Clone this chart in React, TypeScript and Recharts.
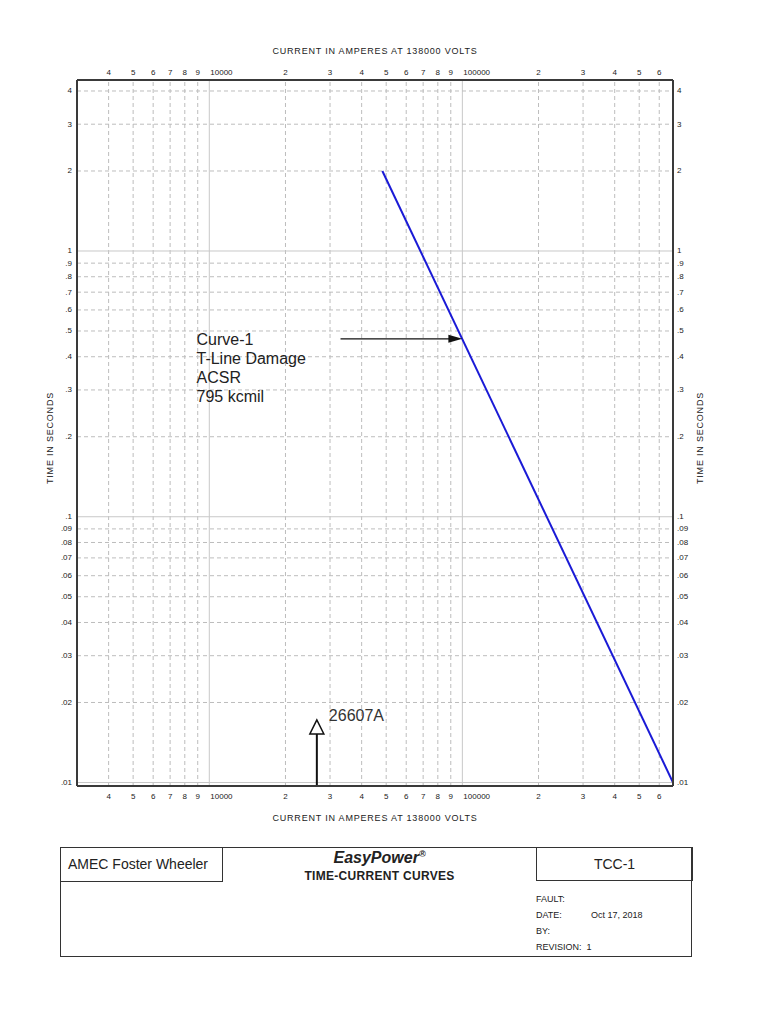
import React from 'react';
import { LineChart, Line, XAxis, YAxis, ReferenceLine } from 'recharts';

// tick positions and the labels printed at them
const currentTicks = [4000, 5000, 6000, 7000, 8000, 9000, 10000, 20000, 30000, 40000, 50000, 60000, 70000, 80000, 90000, 100000, 200000, 300000, 400000, 500000, 600000];
const currentTickLabels = ['4', '5', '6', '7', '8', '9', '10000', '2', '3', '4', '5', '6', '7', '8', '9', '100000', '2', '3', '4', '5', '6'];
const timeTicks = [0.01, 0.02, 0.03, 0.04, 0.05, 0.06, 0.07, 0.08, 0.09, 0.1, 0.2, 0.3, 0.4, 0.5, 0.6, 0.7, 0.8, 0.9, 1, 2, 3, 4];
const timeTickLabels = ['.01', '.02', '.03', '.04', '.05', '.06', '.07', '.08', '.09', '.1', '.2', '.3', '.4', '.5', '.6', '.7', '.8', '.9', '1', '2', '3', '4'];
const decadeCurrents = [10000, 100000];
const decadeTimes = [0.01, 0.1, 1];

// Curve-1: conductor damage, ACSR 795 kcmil
const damageCurrent = [48300, 680000];
const damageTime = [2, 0.01];

const faultCurrent = 26607;
const curveTagCurrent = 33000;
const curveTagTime = 0.467;

const data = damageCurrent.map((c, i) => ({ current: c, time: damageTime[i] }));

const FONT = 'Arial, "Liberation Sans", sans-serif';
const gridDash = '#bdbdbd';
const gridSolid = '#c8c8c8';

const XTick = (props: any) => {
  const { x, y, payload } = props;
  const label = currentTickLabels[currentTicks.indexOf(payload.value)];
  // decade labels start at their gridline, the others are centred on it
  const decade = decadeCurrents.includes(payload.value);
  return (
    <text x={decade ? x + 1 : x} y={y} textAnchor={decade ? 'start' : 'middle'} dominantBaseline="central"
      fontSize={8} fill="#222" fontFamily={FONT}>
      {label}
    </text>
  );
};

const YTick = (props: any) => {
  const { x, y, payload, anchor } = props;
  const label = timeTickLabels[timeTicks.indexOf(payload.value)];
  return (
    <text x={x} y={y} textAnchor={anchor} dominantBaseline="central" fontSize={8} fill="#222" fontFamily={FONT}>
      {label}
    </text>
  );
};

const CurveTag = (p: any) => {
  const { x1, y1, x2 } = p;
  const lines = ['Curve-1', 'T-Line Damage', 'ACSR', '795 kcmil'];
  return (
    <g>
      <line x1={x1} y1={y1} x2={x2 - 12} y2={y1} stroke="#111" strokeWidth={1.2} />
      <polygon points={`${x2},${y1} ${x2 - 14},${y1 - 4} ${x2 - 14},${y1 + 4}`} fill="#111" />
      {lines.map((t, i) => (
        <text key={t} x={x1 - 144} y={y1 + 1 + i * 19} dominantBaseline="central" fontSize={16} fill="#222" fontFamily={FONT}>
          {t}
        </text>
      ))}
    </g>
  );
};

const FaultArrow = (p: any) => {
  const { x1, y1, y2 } = p;
  return (
    <g>
      <line x1={x1} y1={y1} x2={x1} y2={y2 + 14} stroke="#111" strokeWidth={2} />
      <polygon points={`${x1},${y2} ${x1 - 7},${y2 + 14} ${x1 + 7},${y2 + 14}`} fill="#fff" stroke="#111" strokeWidth={1.5} />
      <text x={x1 + 12} y={y2 - 4} dominantBaseline="central" fontSize={16} fill="#333" fontFamily={FONT}>
        {faultCurrent}A
      </text>
    </g>
  );
};

const small: React.CSSProperties = { position: 'absolute', fontFamily: FONT, fontSize: 9, color: '#222', letterSpacing: 0.8, whiteSpace: 'nowrap' };

export default function App() {
  const border = { stroke: '#3a3a3a', strokeWidth: 2 };
  return (
    <div style={{ position: 'absolute', left: 0, top: 0, width: 768, height: 1024, background: '#fff' }}>
      <LineChart width={768} height={1024} data={data} margin={{ top: 0, right: 0, bottom: 0, left: 0 }}>
        <XAxis xAxisId="bottom" dataKey="current" type="number" scale="log" domain={[3000, 680000]} allowDataOverflow
          ticks={currentTicks} interval={0} orientation="bottom" height={238} tickSize={0} tickMargin={10.5}
          tick={<XTick />} axisLine={border} tickLine={false} />
        <XAxis xAxisId="top" dataKey="current" type="number" scale="log" domain={[3000, 680000]} allowDataOverflow
          ticks={currentTicks} interval={0} orientation="top" height={80} tickSize={0} tickMargin={7.5}
          tick={<XTick />} axisLine={border} tickLine={false} />
        <YAxis yAxisId="left" dataKey="time" type="number" scale="log" domain={[0.0097, 4.4]} allowDataOverflow
          ticks={timeTicks} interval={0} width={77} tickSize={0} tickMargin={5}
          tick={<YTick anchor="end" />} axisLine={border} tickLine={false} />
        <YAxis yAxisId="right" dataKey="time" type="number" scale="log" domain={[0.0097, 4.4]} allowDataOverflow
          ticks={timeTicks} interval={0} orientation="right" width={95} tickSize={0} tickMargin={4}
          tick={<YTick anchor="start" />} axisLine={border} tickLine={false} />

        {currentTicks.map((c) => (
          <ReferenceLine key={`x${c}`} xAxisId="bottom" yAxisId="left" x={c}
            stroke={decadeCurrents.includes(c) ? gridSolid : gridDash} strokeWidth={1}
            strokeDasharray={decadeCurrents.includes(c) ? undefined : '4 3'} />
        ))}
        {timeTicks.map((t) => (
          <ReferenceLine key={`y${t}`} xAxisId="bottom" yAxisId="left" y={t}
            stroke={decadeTimes.includes(t) ? gridSolid : gridDash} strokeWidth={1}
            strokeDasharray={decadeTimes.includes(t) ? undefined : '4 3'} />
        ))}

        <Line xAxisId="bottom" yAxisId="left" dataKey="time" type="linear" stroke="#1a1ad6" strokeWidth={2}
          dot={false} isAnimationActive={false} />

        <ReferenceLine xAxisId="bottom" yAxisId="left" ifOverflow="visible"
          segment={[{ x: curveTagCurrent, y: curveTagTime }, { x: 100000, y: curveTagTime }]} shape={CurveTag} />
        <ReferenceLine xAxisId="bottom" yAxisId="left" ifOverflow="visible"
          segment={[{ x: faultCurrent, y: 0.0097 }, { x: faultCurrent, y: 0.0172 }]} shape={FaultArrow} />
      </LineChart>

      <div style={{ ...small, left: 0, width: 750, top: 46, textAlign: 'center' }}>CURRENT IN AMPERES AT 138000 VOLTS</div>
      <div style={{ ...small, left: 0, width: 750, top: 813, textAlign: 'center' }}>CURRENT IN AMPERES AT 138000 VOLTS</div>
      <div style={{ ...small, left: 50, top: 438, transform: 'translate(-50%, -50%) rotate(-90deg)' }}>TIME IN SECONDS</div>
      <div style={{ ...small, left: 700, top: 438, transform: 'translate(-50%, -50%) rotate(-90deg)' }}>TIME IN SECONDS</div>

      {/* title block */}
      <div style={{ position: 'absolute', left: 60, top: 847, width: 632, height: 110, border: '1px solid #333', boxSizing: 'border-box', fontFamily: FONT, color: '#222' }}>
        <div style={{ position: 'absolute', left: -1, top: -1, width: 163, height: 35, border: '1px solid #333', boxSizing: 'border-box', fontSize: 14, lineHeight: '33px', paddingLeft: 7 }}>AMEC Foster Wheeler</div>
        <div style={{ position: 'absolute', left: 475, top: -1, width: 157, height: 34, border: '1px solid #333', boxSizing: 'border-box', fontSize: 14, lineHeight: '32px', textAlign: 'center' }}>TCC-1</div>
        <div style={{ position: 'absolute', left: 162, top: 1, width: 313, textAlign: 'center', fontSize: 16, fontWeight: 'bold', fontStyle: 'italic' }}>
          EasyPower<sup style={{ fontSize: 9 }}>®</sup>
        </div>
        <div style={{ position: 'absolute', left: 162, top: 21, width: 313, textAlign: 'center', fontSize: 12, fontWeight: 'bold', letterSpacing: 0.3 }}>TIME-CURRENT CURVES</div>
        <div style={{ ...small, letterSpacing: 0, left: 475, top: 46 }}>FAULT:</div>
        <div style={{ ...small, letterSpacing: 0, left: 475, top: 62 }}>DATE:</div>
        <div style={{ ...small, letterSpacing: 0, left: 530, top: 62 }}>Oct 17, 2018</div>
        <div style={{ ...small, letterSpacing: 0, left: 475, top: 78 }}>BY:</div>
        <div style={{ ...small, letterSpacing: 0, left: 475, top: 94 }}>REVISION:&nbsp; 1</div>
      </div>
    </div>
  );
}
